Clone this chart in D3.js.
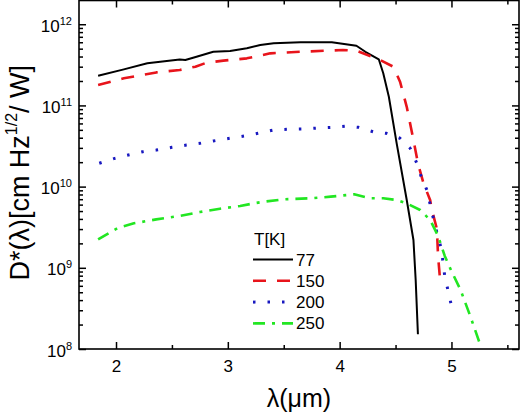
<!DOCTYPE html>
<html>
<head>
<meta charset="utf-8">
<script src="https://cdn.jsdelivr.net/npm/d3@7"></script>
<style>
  body { margin: 0; background: #fff; }
  svg { display: block; font-family: Arial, "Liberation Sans", sans-serif; }
</style>
</head>
<body>
<svg id="chart" width="520" height="416"></svg>
<script>
// wavelength (um) and detectivity (cm Hz^1/2 / W)
const lam77 = [1.84, 2.07, 2.28, 2.57, 2.62, 2.72, 2.87, 3.02, 3.17, 3.29, 3.41, 3.65, 3.93, 4.15, 4.23, 4.35, 4.39, 4.44, 4.51, 4.60, 4.66, 4.68, 4.70];
const d77 = [2.32e11, 2.78e11, 3.30e11, 3.68e11, 3.62e11, 3.98e11, 4.58e11, 4.68e11, 5.05e11, 5.54e11, 5.82e11, 5.99e11, 5.99e11, 5.43e11, 4.58e11, 3.70e11, 2.49e11, 1.28e11, 3.41e10, 6.84e9, 2.20e9, 7.08e8, 1.52e8];

const lam150 = [1.84, 2.07, 2.36, 2.57, 2.71, 2.81, 2.96, 3.17, 3.29, 3.38, 3.65, 4.03, 4.15, 4.35, 4.48, 4.54, 4.60, 4.66, 4.70, 4.75, 4.81, 4.82, 4.87, 4.88, 4.90];
const d150 = [1.78e11, 2.16e11, 2.55e11, 2.73e11, 3.00e11, 3.36e11, 3.56e11, 3.80e11, 4.09e11, 4.38e11, 4.58e11, 4.81e11, 4.72e11, 3.70e11, 3.00e11, 1.96e11, 9.6e10, 3.75e10, 1.94e10, 1.1e10, 6.8e9, 5.5e9, 3.0e9, 1.4e9, 6.7e8];

const lam200 = [1.85, 1.99, 2.11, 2.24, 2.36, 2.50, 2.63, 2.75, 2.87, 3.02, 3.15, 3.27, 3.41, 3.54, 3.68, 3.81, 3.93, 4.06, 4.17, 4.30, 4.42, 4.54, 4.63, 4.69, 4.73, 4.78, 4.84, 4.87, 4.91, 4.94, 4.97, 5.00];
const d200 = [1.94e10, 2.23e10, 2.45e10, 2.69e10, 2.82e10, 3.05e10, 3.25e10, 3.41e10, 3.65e10, 3.94e10, 4.2e10, 4.53e10, 4.98e10, 5.08e10, 5.12e10, 5.27e10, 5.37e10, 5.57e10, 5.37e10, 4.74e10, 4.53e10, 3.94e10, 2.97e10, 1.94e10, 1.32e10, 9.1e9, 3.95e9, 2.7e9, 1.69e9, 7.9e8, 5.2e8, 3.4e8];

const lam250 = [1.84, 2.02, 2.16, 2.36, 2.57, 2.75, 2.93, 3.11, 3.23, 3.32, 3.50, 3.74, 3.92, 4.13, 4.27, 4.39, 4.51, 4.60, 4.72, 4.81, 4.88, 4.94, 5.00, 5.08, 5.17, 5.26];
const d250 = [2.24e9, 3.12e9, 3.53e9, 3.95e9, 4.35e9, 4.86e9, 5.35e9, 5.77e9, 6.22e9, 6.52e9, 6.98e9, 7.18e9, 7.52e9, 8.04e9, 7.18e9, 7.18e9, 6.84e9, 6.22e9, 5.15e9, 3.88e9, 2.47e9, 1.40e9, 9.1e8, 5.4e8, 2.5e8, 1.1e8];

const temps = ["77", "150", "200", "250"];
const xTicks = [2, 3, 4, 5];
const xMinor = [2.5, 3.5, 4.5, 5.5];
const yExps = [8, 9, 10, 11, 12];

const series = [
  { name: temps[0], x: lam77, y: d77, color: "#000000", width: 2, dash: null },
  { name: temps[1], x: lam150, y: d150, color: "#e8141b", width: 2.6, dash: "13,11" },
  { name: temps[2], x: lam200, y: d200, color: "#1818c0", width: 3, dash: "2.5,12" },
  { name: temps[3], x: lam250, y: d250, color: "#22e622", width: 2.6, dash: "12,7,3,7" }
];

let svg = d3.select("#chart");
let leftEdge = 79, rightEdge = 519, topEdge = 0.5, bottomEdge = 349;

let xScale = d3.scaleLinear().domain([1.669, 5.604]).range([leftEdge, rightEdge]);
let yScale = d3.scaleLog().domain([1e8, 1.96e12]).range([bottomEdge, topEdge]);

let yMajor = yExps.map((e) => Math.pow(10, e));
let yMinor = [];
yExps.forEach((e) => {
  for (let k = 2; k <= 9; k++) {
    let v = k * Math.pow(10, e);
    if (v < yScale.domain()[1]) yMinor.push(v);
  }
});

// curves
let line = d3.line().x((d) => xScale(d[0])).y((d) => yScale(d[1]));
let plot = svg.append("g");
series.forEach((s) => {
  plot.append("path")
    .attr("d", line(s.x.map((v, i) => [v, s.y[i]])))
    .attr("fill", "none")
    .attr("stroke", s.color)
    .attr("stroke-width", s.width)
    .attr("stroke-dasharray", s.dash)
    .attr("stroke-linejoin", "round");
});

// axes, all ticks pointing in
function styleAxis(g) {
  g.select(".domain").remove();
  g.selectAll("line").attr("stroke", "#000").attr("stroke-width", 1.5);
}

let xBottom = svg.append("g")
  .attr("transform", `translate(0,${bottomEdge})`)
  .call(d3.axisBottom(xScale).tickValues(xTicks).tickSize(-7).tickPadding(11).tickFormat(d3.format("d")))
  .call(styleAxis);
xBottom.attr("font-family", null).attr("font-size", 17);
xBottom.selectAll("text").attr("fill", "#000");

svg.append("g")
  .attr("transform", `translate(0,${bottomEdge})`)
  .call(d3.axisBottom(xScale).tickValues(xMinor).tickSize(-4).tickFormat(""))
  .call(styleAxis);
svg.append("g")
  .attr("transform", `translate(0,${topEdge})`)
  .call(d3.axisTop(xScale).tickValues(xTicks).tickSize(-7).tickFormat(""))
  .call(styleAxis);
svg.append("g")
  .attr("transform", `translate(0,${topEdge})`)
  .call(d3.axisTop(xScale).tickValues(xMinor).tickSize(-4).tickFormat(""))
  .call(styleAxis);

svg.append("g")
  .attr("transform", `translate(${leftEdge},0)`)
  .call(d3.axisLeft(yScale).tickValues(yMajor).tickSize(-7).tickFormat(""))
  .call(styleAxis);
svg.append("g")
  .attr("transform", `translate(${leftEdge},0)`)
  .call(d3.axisLeft(yScale).tickValues(yMinor).tickSize(-4).tickFormat(""))
  .call(styleAxis);
svg.append("g")
  .attr("transform", `translate(${rightEdge},0)`)
  .call(d3.axisRight(yScale).tickValues(yMajor).tickSize(-7).tickFormat(""))
  .call(styleAxis);
svg.append("g")
  .attr("transform", `translate(${rightEdge},0)`)
  .call(d3.axisRight(yScale).tickValues(yMinor).tickSize(-4).tickFormat(""))
  .call(styleAxis);

// y labels as 10^n
let yLab = svg.append("g").attr("font-size", 17).attr("text-anchor", "end");
yExps.forEach((e) => {
  let t = yLab.append("text")
    .attr("x", leftEdge - 7)
    .attr("y", yScale(Math.pow(10, e)) + 7.5);
  t.append("tspan").text("10");
  t.append("tspan").attr("font-size", 11).attr("dy", -7).text(e);
});

// frame
svg.append("rect")
  .attr("x", leftEdge).attr("y", topEdge)
  .attr("width", rightEdge - leftEdge).attr("height", bottomEdge - topEdge)
  .attr("fill", "none").attr("stroke", "#000").attr("stroke-width", 1.6);

// axis titles
svg.append("text")
  .attr("x", (leftEdge + rightEdge) / 2)
  .attr("y", 407)
  .attr("text-anchor", "middle")
  .attr("font-size", 25)
  .text("λ(μm)");

let yt = svg.append("text")
  .attr("transform", `translate(29,${(topEdge + bottomEdge) / 2 - 2}) rotate(-90)`)
  .attr("text-anchor", "middle")
  .attr("font-size", 27);
yt.append("tspan").text("D*(λ)[cm Hz");
yt.append("tspan").attr("font-size", 16).attr("dy", -12).text("1/2");
yt.append("tspan").attr("dy", 12).text("/ W]");

// legend
let leg = svg.append("g").attr("font-size", 17);
leg.append("text").attr("x", 254).attr("y", 245).text("T[K]");
series.forEach((s, i) => {
  let ly = 259.5 + i * 21.3;
  leg.append("line")
    .attr("x1", 253).attr("x2", 293)
    .attr("y1", ly).attr("y2", ly)
    .attr("stroke", s.color)
    .attr("stroke-width", s.width)
    .attr("stroke-dasharray", s.dash);
  leg.append("text").attr("x", 296).attr("y", ly + 6).text(s.name);
});
</script>
</body>
</html>
